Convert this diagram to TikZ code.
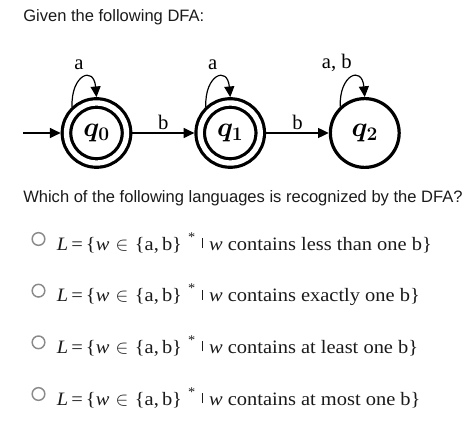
\documentclass[tikz,border=0pt]{standalone}
\usepackage{fontspec}
\setmainfont{Liberation Serif}
\newfontfamily\uisans{Liberation Sans}
\newfontfamily\optserif[FakeStretch=1.08]{Liberation Serif}
\usepackage{tikz}
\usetikzlibrary{positioning,arrows.meta}
\definecolor{RadioGray}{HTML}{8A8A8A}
\definecolor{TextDark}{HTML}{1A1A1A}
\newcommand\vbarmark{\rule[1.5pt]{0.9pt}{7.5pt}}

\tikzset{
  dfastate/.style={circle, draw, line width=2.4pt, minimum size=51.6pt,
    inner sep=0pt, font=\fontsize{21}{24}\selectfont\boldmath},
  acceptstate/.style={dfastate, double, double distance=4pt,
    minimum size=45pt, outer sep=4.4pt},
  edgearrow/.style={line width=0.9pt, -{Triangle[length=8pt,width=7.5pt]}},
  edgelabel/.style={font=\fontsize{15.5}{17}\selectfont, inner sep=0pt},
  radiobtn/.style={circle, draw=RadioGray, line width=1.1pt,
    minimum size=9.5pt, inner sep=0pt},
  optiontext/.style={anchor=base west, inner sep=0pt, text=TextDark,
    font=\optserif\fontsize{14.2}{16}\selectfont},
  uitext/.style={anchor=base west, inner sep=0pt, text=TextDark,
    font=\uisans\fontsize{12.4}{14}\selectfont},
}

\begin{document}
\begin{tikzpicture}[x=0.75pt, y=0.75pt]
  \useasboundingbox (0,0) rectangle (467,-438);

  \node[uitext] (title) at (23,-22) {Given the following DFA:};

  % states
  \node[acceptstate] (q0) at (96.5,-133) {$q_0$};
  \node[acceptstate, right=46.5pt of q0] (q1) {$q_1$};
  \node[dfastate, right=47pt of q1] (q2) {$q_2$};
  \coordinate (start) at (23,-133);

  % transitions
  \draw[edgearrow] (start) -- (q0);
  \draw[edgearrow] (q0) -- node[edgelabel, above=2pt] (b01) {b} (q1);
  \draw[edgearrow] (q1) -- node[edgelabel, above=2pt] (b12) {b} (q2);
  \draw[edgearrow] (q0.133) .. controls +(92:24pt) and +(95:24pt) .. (q0.90)
    node[edgelabel, pos=0.5, anchor=base east, xshift=1pt, yshift=6.75pt] (a0) {a};
  \draw[edgearrow] (q1.133) .. controls +(92:24pt) and +(95:24pt) .. (q1.90)
    node[edgelabel, pos=0.5, anchor=base east, xshift=1pt, yshift=6.75pt] (a1) {a};
  \draw[edgearrow] (q2.133) .. controls +(92:24pt) and +(95:24pt) .. (q2.90)
    node[edgelabel, pos=0.5, anchor=base east, xshift=1pt, yshift=6.75pt] (ab2) {a, b};

  \node[uitext] (question) at (23,-203)
    {Which of the following languages is recognized by the DFA?};

  % answer options
  \foreach \i/\cond in {0/less than one, 1/exactly one, 2/at least one, 3/at most one} {
    \node[radiobtn] (radio\i) at (38.5,{-239-51.67*\i}) {};
    \node[optiontext] (opt\i) at (56.5,{-250-51.67*\i})
      {\textit{L}\,=\,\{\textit{w}\,\,$\in$\,\,\{a,\,b\}\hspace{4.5pt}\raisebox{1.5pt}{\textsuperscript{*}}\hspace{4.5pt}\vbarmark\hspace{4.5pt}\textit{w} contains \cond\ b\}};
  }
\end{tikzpicture}
\end{document}
